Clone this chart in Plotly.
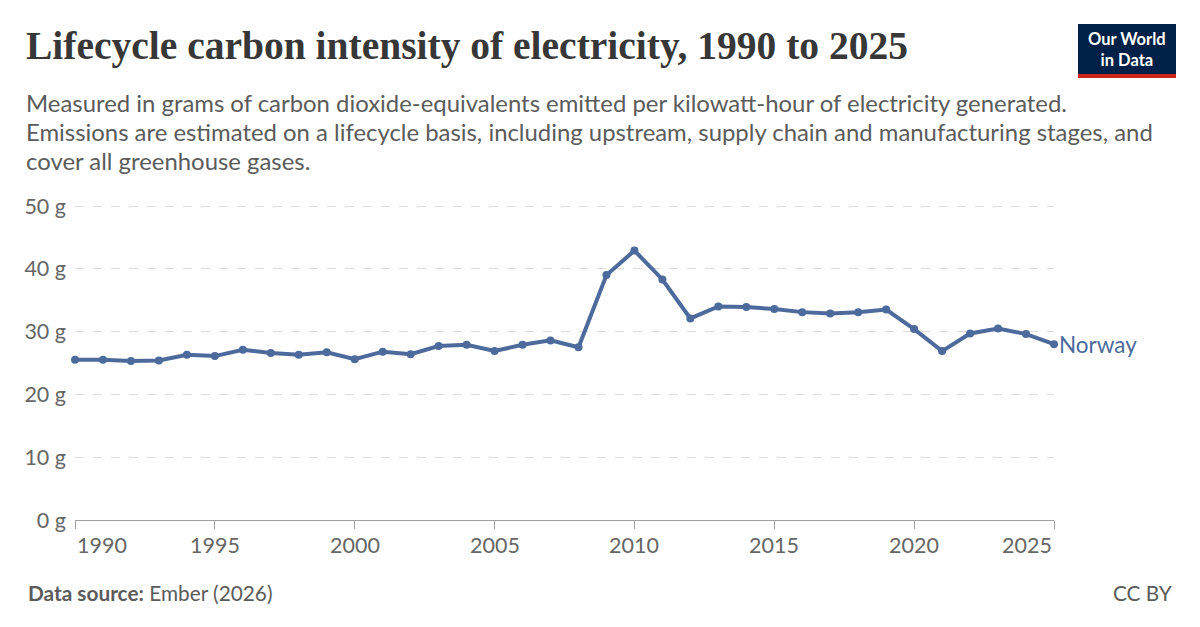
import plotly.graph_objects as go

years = list(range(1990, 2026))
norway = [25.5, 25.5, 25.3, 25.4, 26.3, 26.1, 27.1, 26.6, 26.3, 26.7,
          25.6, 26.8, 26.4, 27.7, 27.9, 26.9, 27.9, 28.6, 27.5, 39.0,
          42.9, 38.3, 32.1, 34.0, 33.9, 33.6, 33.1, 32.9, 33.1, 33.5,
          30.4, 26.9, 29.7, 30.5, 29.6, 28.0]
entity = "Norway"
y_ticks = [0, 10, 20, 30, 40, 50]
y_tick_labels = ["0 g", "10 g", "20 g", "30 g", "40 g", "50 g"]
x_ticks = [1990, 1995, 2000, 2005, 2010, 2015, 2020, 2025]
x_tick_labels = ["1990", "1995", "2000", "2005", "2010", "2015", "2020", "2025"]

W, H = 1200, 627
L, R, T, B = 75, 146, 200, 107
PW, PH = W - L - R, H - T - B
Y_TOP = 50.955  # leaves a few pixels above the 50 g gridline

def px(x):
    return (x - L) / PW

def py(y):
    return 1 - (y - T) / PH

LINE = "#4c6a9c"
TICK = "#666666"

fig = go.Figure()
fig.add_trace(go.Scatter(
    x=years, y=norway, mode="lines+markers",
    line=dict(color=LINE, width=4),
    marker=dict(color=LINE, size=8),
    cliponaxis=False, showlegend=False, name=entity,
))

ann = []
# title
ann.append(dict(text="<b>Lifecycle carbon intensity of electricity, 1990 to 2025</b>",
                x=px(24), y=py(46), xref="paper", yref="paper", xanchor="left", yanchor="middle",
                showarrow=False, font=dict(family="Liberation Serif", size=39.5, color="#373737")))
sub = ["Measured in grams of carbon dioxide-equivalents emitted per kilowatt-hour of electricity generated.",
       "Emissions are estimated on a lifecycle basis, including upstream, supply chain and manufacturing stages, and",
       "cover all greenhouse gases."]
for i, s in enumerate(sub):
    ann.append(dict(text=s, x=px(24), y=py(103 + 28.5 * i), xref="paper", yref="paper",
                    xanchor="left", yanchor="middle", showarrow=False,
                    font=dict(family="Lato", size=23.9, color="#5b5b5b")))
# x tick labels
for v, t in zip(x_ticks, x_tick_labels):
    xa = "center"
    if v == x_ticks[0]:
        xa = "left"
    elif v == x_ticks[-1]:
        xa = "right"
    ann.append(dict(text=t, x=v, y=py(545), xref="x", yref="paper", xanchor=xa, yanchor="middle",
                    showarrow=False, font=dict(family="Lato", size=21.5, color=TICK)))
# entity label
ann.append(dict(text=entity, x=years[-1], y=norway[-1], xref="x", yref="y", xanchor="left",
                yanchor="middle", xshift=3, showarrow=False,
                font=dict(family="Lato", size=22.5, color=LINE)))
# footer
ann.append(dict(text="<b>Data source:</b> Ember (2026)", x=px(26), y=py(592), xref="paper", yref="paper",
                xanchor="left", yanchor="middle", showarrow=False,
                font=dict(family="Lato", size=20.8, color="#5b5b5b")))
ann.append(dict(text="CC BY", x=px(1174), y=py(592), xref="paper", yref="paper",
                xanchor="right", yanchor="middle", showarrow=False,
                font=dict(family="Lato", size=20.8, color="#5b5b5b")))
# logo text (single block, two lines)
ann.append(dict(text="<b>Our World<br>in Data</b>", x=px(1127), y=py(49), xref="paper", yref="paper",
                xanchor="center", yanchor="middle", showarrow=False, align="center",
                borderpad=0, font=dict(family="Lato", size=16.5, color="white")))

shapes = [
    dict(type="rect", xref="paper", yref="paper", x0=px(1078), x1=px(1176), y0=py(74), y1=py(24),
         fillcolor="#002147", line=dict(width=0), layer="above"),
    dict(type="rect", xref="paper", yref="paper", x0=px(1078), x1=px(1176), y0=py(78), y1=py(74),
         fillcolor="#ce261e", line=dict(width=0), layer="above"),
]

fig.update_layout(
    width=W, height=H, margin=dict(l=L, r=R, t=T, b=B),
    paper_bgcolor="white", plot_bgcolor="white",
    annotations=ann, shapes=shapes,
    xaxis=dict(range=[1990, 2025], tickvals=x_ticks, showticklabels=False,
               ticks="outside", ticklen=8, tickcolor="#a1a1a1", tickwidth=1,
               showline=True, linecolor="#a1a1a1", linewidth=1, showgrid=False, zeroline=False),
    yaxis=dict(range=[0, Y_TOP], tickvals=y_ticks, ticktext=y_tick_labels,
               showgrid=True, gridcolor="#dddddd", griddash="dash", gridwidth=1,
               zeroline=False, showline=False, ticks="", ticklabelstandoff=8,
               tickfont=dict(family="Lato", size=21.5, color=TICK)),
    font=dict(family="Lato"),
)

fig.write_html("out.html")
